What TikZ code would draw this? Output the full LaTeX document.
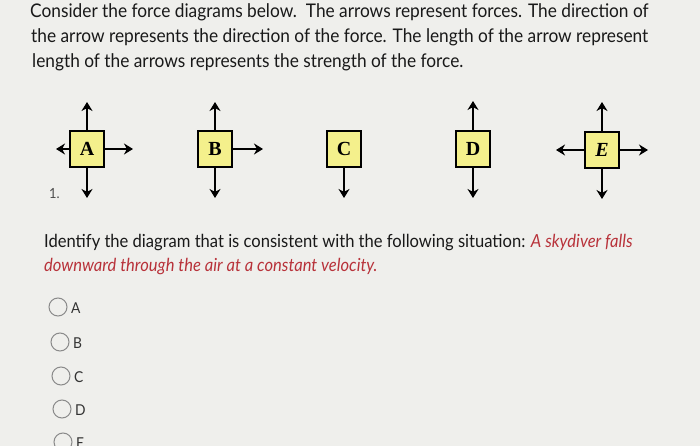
\documentclass[tikz,border=0pt]{standalone}
\usepackage{fontspec}
\setmainfont{Lato}[FakeStretch=0.92]
\newfontfamily\boxfont{Liberation Serif}
\usetikzlibrary{arrows.meta}
\definecolor{bg}{HTML}{EFEFEC}
\definecolor{boxfill}{HTML}{F4F08C}
\definecolor{qred}{HTML}{B8323A}
\definecolor{radio}{HTML}{8A8A8A}
\tikzset{
  fbox/.style={draw=black, line width=2.6pt, fill=boxfill, minimum width=34pt, minimum height=36pt, inner sep=0pt, font=\boxfont\bfseries\fontsize{20}{20}\selectfont},
  force/.style={line width=2.4pt, -{Stealth[length=9pt,width=11pt]}},
  body/.style={anchor=base west, inner sep=0pt, font=\fontsize{18.8}{22}\selectfont, text=black!90},
  qbody/.style={anchor=base west, inner sep=0pt, font=\fontsize{18}{22}\selectfont, text=black!90},
  radiobtn/.style={circle, draw=radio, line width=1pt, minimum size=18pt, inner sep=0pt},
  opt/.style={anchor=base west, inner sep=0pt, font=\fontsize{15}{18}\selectfont, text=black!80}
}
\begin{document}
\begin{tikzpicture}[x=1pt,y=-1pt]
\fill[bg] (0,0) rectangle (700,446);
\useasboundingbox (0,0) rectangle (700,446);
% heading text
\node[body] (t1) at (30,18) {Consider the force diagrams below.\ \ The arrows represent forces. The direction of};
\node[body] (t2) at (31,43) {the arrow represents the direction of the force. The length of the arrow represent};
\node[body] (t3) at (32,68) {length of the arrows represents the strength of the force.};
% box A
\node[fbox] (A) at (87,149) {A};
\coordinate (Au) at (87,102); \coordinate (Ad) at (87,198);
\coordinate (Al) at (56,149); \coordinate (Ar) at (133,149);
\draw[force] (A.north) -- (Au);
\draw[force] (A.south) -- (Ad);
\draw[force] (A.west) -- (Al);
\draw[force] (A.east) -- (Ar);
% box B
\node[fbox] (B) at (215,149) {B};
\coordinate (Bu) at (215,102); \coordinate (Bd) at (215,198);
\coordinate (Br) at (263,149);
\draw[force] (B.north) -- (Bu);
\draw[force] (B.south) -- (Bd);
\draw[force] (B.east) -- (Br);
% box C
\node[fbox] (C) at (344,149) {C};
\coordinate (Cd) at (344,198);
\draw[force] (C.south) -- (Cd);
% box D
\node[fbox] (D) at (473,149) {D};
\coordinate (Du) at (473,101); \coordinate (Dd) at (473,198);
\draw[force] (D.north) -- (Du);
\draw[force] (D.south) -- (Dd);
% box E
\node[fbox, font=\boxfont\bfseries\itshape\fontsize{20}{20}\selectfont] (E) at (602,150) {E};
\coordinate (Eu) at (602,102); \coordinate (Ed) at (602,199);
\coordinate (El) at (556,150); \coordinate (Er) at (648,150);
\draw[force] (E.north) -- (Eu);
\draw[force] (E.south) -- (Ed);
\draw[force] (E.west) -- (El);
\draw[force] (E.east) -- (Er);
% handwritten mark
\node[anchor=base west, inner sep=0pt, font=\fontsize{14}{14}\selectfont, text=black!70] (mark) at (49,199) {1.};
% question
\node[qbody] (q1) at (44,247) {Identify the diagram that is consistent with the following situation: \textcolor{qred}{\itshape A skydiver falls}};
\node[qbody, text=qred, font=\itshape\fontsize{18}{22}\selectfont] (q2) at (44,271) {downward through the air at a constant velocity.};
% options
\node[radiobtn] (rA) at (58,307) {};
\node[opt] (lA) at (71,313) {A};
\node[radiobtn] (rB) at (60,342) {};
\node[opt] (lB) at (73,348) {B};
\node[radiobtn] (rC) at (61,376) {};
\node[opt] (lC) at (74,382) {C};
\node[radiobtn] (rD) at (62,409) {};
\node[opt] (lD) at (75,415) {D};
\node[radiobtn] (rE) at (63,442) {};
\node[opt] (lE) at (76,448) {E};
\end{tikzpicture}
\end{document}
